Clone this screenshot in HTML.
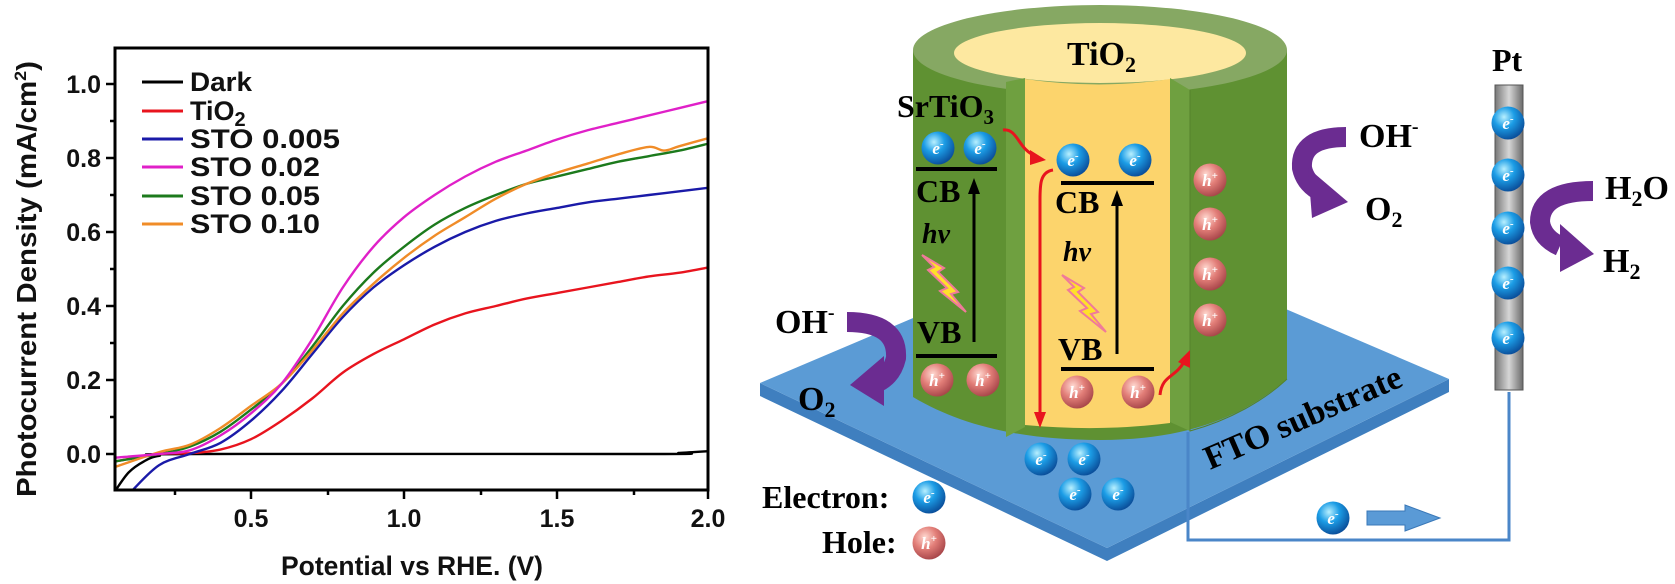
<!DOCTYPE html>
<html><head><meta charset="utf-8"><style>
html,body{margin:0;padding:0;background:#fff}
svg{display:block}
.ax{font-family:"Liberation Sans",sans-serif;font-weight:bold;fill:#111}
.sf{font-family:"Liberation Serif",serif;font-weight:bold;fill:#000}
.bl{font-family:"Liberation Serif",serif;font-style:italic;font-weight:bold;fill:#fff;font-size:17px}
</style></head><body>
<svg id="s" width="1675" height="584" viewBox="0 0 1675 584" xmlns="http://www.w3.org/2000/svg">
<defs>
<radialGradient id="ge" cx="0.38" cy="0.32" r="0.7"><stop offset="0" stop-color="#b8f0ff"/><stop offset="0.45" stop-color="#1c9de6"/><stop offset="1" stop-color="#0a4e9a"/></radialGradient>
<radialGradient id="gh" cx="0.38" cy="0.32" r="0.7"><stop offset="0" stop-color="#ffd8d0"/><stop offset="0.5" stop-color="#e27e78"/><stop offset="1" stop-color="#a8464a"/></radialGradient>
<linearGradient id="gp" x1="0" x2="1"><stop offset="0" stop-color="#777"/><stop offset="0.5" stop-color="#d6d6d6"/><stop offset="1" stop-color="#6a6a6a"/></linearGradient>
<circle id="E" r="16.5" fill="url(#ge)"/>
<circle id="H" r="16.5" fill="url(#gh)"/>
<clipPath id="pc"><rect x="115" y="48" width="593" height="442"/></clipPath>
</defs>

<g id="curves" clip-path="url(#pc)" fill="none" stroke-width="2.4" stroke-linejoin="round"></g>
<rect x="115" y="48" width="593" height="442" fill="none" stroke="#000" stroke-width="3"/>
<g stroke="#000" stroke-width="2.5">
<line x1="106" y1="84" x2="115" y2="84"/><line x1="106" y1="158" x2="115" y2="158"/><line x1="106" y1="232" x2="115" y2="232"/><line x1="106" y1="306" x2="115" y2="306"/><line x1="106" y1="380" x2="115" y2="380"/><line x1="106" y1="454" x2="115" y2="454"/>
<line x1="110" y1="121" x2="115" y2="121"/><line x1="110" y1="195" x2="115" y2="195"/><line x1="110" y1="269" x2="115" y2="269"/><line x1="110" y1="343" x2="115" y2="343"/><line x1="110" y1="417" x2="115" y2="417"/>
<line x1="251" y1="490" x2="251" y2="499"/><line x1="404" y1="490" x2="404" y2="499"/><line x1="557" y1="490" x2="557" y2="499"/><line x1="708" y1="490" x2="708" y2="499"/>
<line x1="175" y1="490" x2="175" y2="495"/><line x1="328" y1="490" x2="328" y2="495"/><line x1="481" y1="490" x2="481" y2="495"/><line x1="634" y1="490" x2="634" y2="495"/>
</g>
<g class="ax" font-size="25" text-anchor="end">
<text x="101" y="93">1.0</text><text x="101" y="167">0.8</text><text x="101" y="241">0.6</text><text x="101" y="315">0.4</text><text x="101" y="389">0.2</text><text x="101" y="463">0.0</text>
</g>
<g class="ax" font-size="25" text-anchor="middle">
<text x="251" y="527">0.5</text><text x="404" y="527">1.0</text><text x="557" y="527">1.5</text><text x="708" y="527">2.0</text>
</g>
<text class="ax" font-size="27" x="281" y="575" textLength="262" lengthAdjust="spacingAndGlyphs">Potential vs RHE. (V)</text>
<text class="ax" font-size="28" transform="translate(36,497) rotate(-90)" textLength="436" lengthAdjust="spacingAndGlyphs">Photocurrent Density (mA/cm<tspan font-size="17" dy="-10">2</tspan><tspan dy="10">)</tspan></text>
<g stroke-width="3">
<line x1="142" y1="82" x2="183" y2="82" stroke="#000"/>
<line x1="142" y1="111" x2="183" y2="111" stroke="#e8141e"/>
<line x1="142" y1="139" x2="183" y2="139" stroke="#1a1aa8"/>
<line x1="142" y1="167" x2="183" y2="167" stroke="#e020c8"/>
<line x1="142" y1="196" x2="183" y2="196" stroke="#1c7a1c"/>
<line x1="142" y1="224" x2="183" y2="224" stroke="#f08c28"/>
</g>
<g class="ax" font-size="27">
<text x="190" y="91" textLength="62" lengthAdjust="spacingAndGlyphs">Dark</text>
<text x="190" y="120">TiO<tspan font-size="20" dy="6">2</tspan></text>
<text x="190" y="148" textLength="150" lengthAdjust="spacingAndGlyphs">STO 0.005</text>
<text x="190" y="176" textLength="130" lengthAdjust="spacingAndGlyphs">STO 0.02</text>
<text x="190" y="205" textLength="130" lengthAdjust="spacingAndGlyphs">STO 0.05</text>
<text x="190" y="233" textLength="130" lengthAdjust="spacingAndGlyphs">STO 0.10</text>
</g>

<polygon points="760,383 1107,548 1449,379 1449,392 1107,561 760,396" fill="#3f7fbf"/>
<polygon points="760,383 1111,234 1449,379 1107,548" fill="#5b9bd5"/>
<path d="M913,50 L913,397 C960,425 1020,440 1100,440 C1180,440 1240,420 1287,379 L1287,50 Z" fill="#5f9132"/>
<ellipse cx="1100" cy="50" rx="187" ry="45" fill="#86a863"/>
<ellipse cx="1100" cy="53" rx="146" ry="30" fill="#fde8a0"/>
<path d="M1025,79 Q1100,90 1170,79 L1170,423 Q1100,432 1025,425 Z" fill="#fcd46c"/>
<polygon points="1006,82 1025,78 1025,427 1006,437" fill="#6fa040"/>
<polygon points="1170,78 1190,90 1190,431 1170,422" fill="#6fa040"/>
<path d="M1190,90 L1190,431 C1230,420 1265,400 1287,379" fill="none" stroke="#54822c" stroke-width="1"/>

<text class="sf" font-size="34" x="1067" y="65">TiO<tspan font-size="22" dy="7">2</tspan></text>
<text class="sf" font-size="32" x="897" y="117">SrTiO<tspan font-size="21" dy="7">3</tspan></text>

<rect x="916" y="167" width="81" height="4" fill="#000"/>
<rect x="916" y="354" width="81" height="4" fill="#000"/>
<text class="sf" font-size="32" x="916" y="202">CB</text>
<text class="sf" font-size="32" x="917" y="343">VB</text>
<line x1="974" y1="342" x2="974" y2="192" stroke="#000" stroke-width="3"/>
<polygon points="968,194 974,178 980,194" fill="#000"/>
<text class="sf" font-size="28" font-style="italic" x="922" y="243">hv</text>
<polygon points="922,255 944,268 938,272 958,292 951,294 966,312 940,291 947,288 928,270 934,267" fill="#ffe02a" stroke="#f07a9a" stroke-width="2"/>

<rect x="1061" y="181" width="93" height="4" fill="#000"/>
<rect x="1061" y="367" width="93" height="4" fill="#000"/>
<text class="sf" font-size="32" x="1055" y="213">CB</text>
<text class="sf" font-size="32" x="1058" y="360">VB</text>
<line x1="1117" y1="354" x2="1117" y2="204" stroke="#000" stroke-width="3"/>
<polygon points="1111,206 1117,190 1123,206" fill="#000"/>
<text class="sf" font-size="28" font-style="italic" x="1063" y="261">hv</text>
<polygon points="1062,275 1084,288 1078,292 1098,312 1091,314 1106,332 1080,311 1087,308 1068,290 1074,287" fill="#ffe02a" stroke="#f07a9a" stroke-width="2"/>

<path d="M1003,130 C1018,128 1018,150 1036,156" fill="none" stroke="#e8141e" stroke-width="3"/>
<polygon points="1030,150 1046,160 1030,165" fill="#e8141e"/>
<path d="M1053,170 C1040,172 1040,185 1040,200 L1040,415" fill="none" stroke="#e8141e" stroke-width="3"/>
<polygon points="1034,412 1040,428 1046,412" fill="#e8141e"/>
<path d="M1160,395 C1162,375 1175,378 1184,362" fill="none" stroke="#e8141e" stroke-width="3"/>
<polygon points="1178,362 1190,350 1190,368" fill="#e8141e"/>

<g fill="#6b2c91">
<path d="M1346,137 Q1300,137 1302,168 Q1305,182 1318,190" fill="none" stroke="#6b2c91" stroke-width="20"/>
<polygon points="1308,168 1348,202 1312,218"/>
<path d="M1593,191 Q1540,191 1540,222 Q1542,238 1560,246" fill="none" stroke="#6b2c91" stroke-width="20"/>
<polygon points="1560,224 1594,254 1560,272"/>
<path d="M847,322 Q898,322 896,358 Q892,375 878,382" fill="none" stroke="#6b2c91" stroke-width="20"/>
<polygon points="884,356 850,385 884,406"/>
</g>
<text class="sf" font-size="34" x="1359" y="147">OH<tspan font-size="20" dy="-14">-</tspan></text>
<text class="sf" font-size="34" x="1365" y="220">O<tspan font-size="22" dy="7">2</tspan></text>
<text class="sf" font-size="34" x="775" y="333">OH<tspan font-size="20" dy="-14">-</tspan></text>
<text class="sf" font-size="34" x="798" y="410">O<tspan font-size="22" dy="7">2</tspan></text>
<text class="sf" font-size="34" x="1605" y="199">H<tspan font-size="22" dy="7">2</tspan><tspan dy="-7">O</tspan></text>
<text class="sf" font-size="34" x="1603" y="272">H<tspan font-size="22" dy="7">2</tspan></text>

<text class="sf" font-size="32" x="1492" y="71">Pt</text>
<rect x="1495" y="85" width="28" height="305" fill="url(#gp)" stroke="#555" stroke-width="1"/>
<polyline points="1188,432 1188,540 1509,540 1509,392" fill="none" stroke="#4a86c8" stroke-width="3"/>
<polygon points="1367,511 1405,511 1405,505 1440,518 1405,531 1405,525 1367,525" fill="#5a9ad6" stroke="#3a78b8" stroke-width="1"/>

<text class="sf" font-size="34" transform="translate(1210,470) rotate(-23.5)">FTO substrate</text>

<text class="sf" font-size="32" x="762" y="508">Electron:</text>
<text class="sf" font-size="32" x="822" y="553">Hole:</text>

<g>
<use href="#E" x="938" y="148"/><use href="#E" x="980" y="148"/>
<use href="#E" x="1073" y="160"/><use href="#E" x="1135" y="160"/>
<use href="#E" x="1041" y="459"/><use href="#E" x="1084" y="459"/><use href="#E" x="1075" y="494"/><use href="#E" x="1118" y="494"/>
<use href="#E" x="929" y="497"/>
<use href="#E" x="1508" y="123"/><use href="#E" x="1508" y="175"/><use href="#E" x="1508" y="228"/><use href="#E" x="1508" y="283"/><use href="#E" x="1508" y="338"/>
<use href="#E" x="1333" y="518"/>
</g>
<g class="bl" text-anchor="middle">
<text x="938" y="154">e<tspan font-size="11" dy="-7">-</tspan></text><text x="980" y="154">e<tspan font-size="11" dy="-7">-</tspan></text>
<text x="1073" y="166">e<tspan font-size="11" dy="-7">-</tspan></text><text x="1135" y="166">e<tspan font-size="11" dy="-7">-</tspan></text>
<text x="1041" y="465">e<tspan font-size="11" dy="-7">-</tspan></text><text x="1084" y="465">e<tspan font-size="11" dy="-7">-</tspan></text><text x="1075" y="500">e<tspan font-size="11" dy="-7">-</tspan></text><text x="1118" y="500">e<tspan font-size="11" dy="-7">-</tspan></text>
<text x="929" y="503">e<tspan font-size="11" dy="-7">-</tspan></text>
<text x="1508" y="129">e<tspan font-size="11" dy="-7">-</tspan></text><text x="1508" y="181">e<tspan font-size="11" dy="-7">-</tspan></text><text x="1508" y="234">e<tspan font-size="11" dy="-7">-</tspan></text><text x="1508" y="289">e<tspan font-size="11" dy="-7">-</tspan></text><text x="1508" y="344">e<tspan font-size="11" dy="-7">-</tspan></text>
<text x="1333" y="524">e<tspan font-size="11" dy="-7">-</tspan></text>
</g>
<g>
<use href="#H" x="937" y="380"/><use href="#H" x="983" y="380"/>
<use href="#H" x="1077" y="392"/><use href="#H" x="1138" y="392"/>
<use href="#H" x="1210" y="180"/><use href="#H" x="1210" y="224"/><use href="#H" x="1210" y="274"/><use href="#H" x="1210" y="320"/>
<use href="#H" x="929" y="543"/>
</g>
<g class="bl" text-anchor="middle">
<text x="937" y="386">h<tspan font-size="11" dy="-7">+</tspan></text><text x="983" y="386">h<tspan font-size="11" dy="-7">+</tspan></text>
<text x="1077" y="398">h<tspan font-size="11" dy="-7">+</tspan></text><text x="1138" y="398">h<tspan font-size="11" dy="-7">+</tspan></text>
<text x="1210" y="186">h<tspan font-size="11" dy="-7">+</tspan></text><text x="1210" y="230">h<tspan font-size="11" dy="-7">+</tspan></text><text x="1210" y="280">h<tspan font-size="11" dy="-7">+</tspan></text><text x="1210" y="326">h<tspan font-size="11" dy="-7">+</tspan></text>
<text x="929" y="549">h<tspan font-size="11" dy="-7">+</tspan></text>
</g>
</svg>
<script>
(function(){
var X=function(v){return 404+(v-1)*306;},Y=function(v){return 454-v*370;};
var S=[
["#000",[[0.056,-0.1],[0.1,-0.05],[0.15,-0.02],[0.2,-0.005],[0.3,0],[1.8,0],[1.9,0.003],[2.0,0.008]]],
["#e8141e",[[0.056,-0.02],[0.2,0],[0.3,0.002],[0.4,0.012],[0.5,0.04],[0.6,0.09],[0.7,0.15],[0.8,0.22],[0.9,0.27],[1.0,0.31],[1.1,0.35],[1.2,0.38],[1.3,0.40],[1.4,0.42],[1.5,0.435],[1.6,0.45],[1.7,0.465],[1.8,0.48],[1.9,0.49],[2.0,0.505]]],
["#1a1aa8",[[0.11,-0.1],[0.2,-0.03],[0.3,0],[0.4,0.03],[0.5,0.09],[0.6,0.17],[0.7,0.27],[0.8,0.37],[0.9,0.45],[1.0,0.51],[1.1,0.56],[1.2,0.60],[1.3,0.63],[1.4,0.65],[1.5,0.665],[1.6,0.68],[1.7,0.69],[1.8,0.70],[1.9,0.71],[2.0,0.72]]],
["#1c7a1c",[[0.056,-0.02],[0.2,0],[0.3,0.02],[0.4,0.06],[0.5,0.12],[0.6,0.19],[0.7,0.29],[0.8,0.40],[0.9,0.49],[1.0,0.56],[1.1,0.62],[1.2,0.665],[1.3,0.70],[1.4,0.73],[1.5,0.75],[1.6,0.77],[1.7,0.79],[1.8,0.805],[1.9,0.82],[2.0,0.84]]],
["#f08c28",[[0.056,-0.035],[0.2,0.005],[0.3,0.025],[0.4,0.07],[0.5,0.13],[0.6,0.19],[0.7,0.28],[0.8,0.38],[0.9,0.46],[1.0,0.53],[1.1,0.59],[1.2,0.64],[1.3,0.69],[1.4,0.73],[1.5,0.76],[1.6,0.785],[1.7,0.81],[1.8,0.83],[1.85,0.82],[1.9,0.832],[2.0,0.855]]],
["#e020c8",[[0.056,-0.01],[0.2,0],[0.3,0.01],[0.4,0.05],[0.5,0.11],[0.6,0.19],[0.7,0.31],[0.8,0.45],[0.9,0.56],[1.0,0.64],[1.1,0.70],[1.2,0.75],[1.3,0.79],[1.4,0.82],[1.5,0.85],[1.6,0.875],[1.7,0.895],[1.8,0.915],[1.9,0.935],[2.0,0.955]]]
];
var g=document.getElementById('curves'),ns='http://www.w3.org/2000/svg';
S.forEach(function(s){
 var p=s[1].map(function(q){return [X(q[0]),Y(q[1])];});
 var d='M'+p[0][0]+','+p[0][1];
 for(var i=0;i<p.length-1;i++){
  var p0=p[i-1]||p[i],p1=p[i],p2=p[i+1],p3=p[i+2]||p2;
  d+=' C'+(p1[0]+(p2[0]-p0[0])/6)+','+(p1[1]+(p2[1]-p0[1])/6)+' '+(p2[0]-(p3[0]-p1[0])/6)+','+(p2[1]-(p3[1]-p1[1])/6)+' '+p2[0]+','+p2[1];
 }
 var e=document.createElementNS(ns,'path');e.setAttribute('d',d);e.setAttribute('stroke',s[0]);g.appendChild(e);
});
})();
</script>
</body></html>
